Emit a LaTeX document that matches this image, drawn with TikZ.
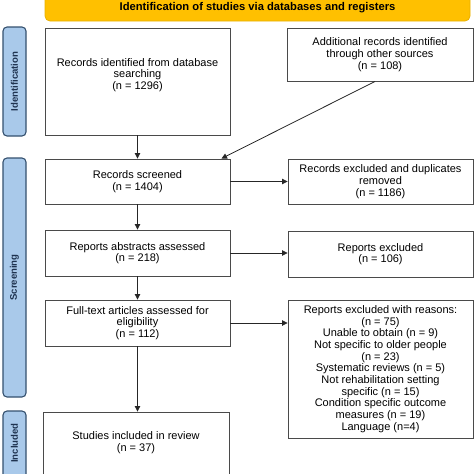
\documentclass[tikz,border=0pt]{standalone}
\usepackage{fontspec}
\setmainfont{Liberation Sans}
\usetikzlibrary{arrows.meta}
\definecolor{banner}{HTML}{FFC000}
\definecolor{bannerline}{HTML}{E8B000}
\definecolor{sidefill}{HTML}{A9C9EA}
\definecolor{sideline}{HTML}{34506E}
\definecolor{sidetext}{HTML}{1F3350}
\definecolor{boxline}{HTML}{4A4A4A}
\tikzset{
  flowbox/.style={draw=boxline, line width=0.9pt, fill=white, align=center, inner sep=2pt,
    font=\fontsize{11}{11.7}\selectfont, anchor=center},
  sidebox/.style={draw=sideline, line width=1.1pt, fill=sidefill, rounded corners=4pt,
    inner sep=0pt, font=\bfseries\fontsize{9.6}{11}\selectfont, text=sidetext},
  flowarrow/.style={draw=black!85, line width=0.8pt, -{Triangle[length=5.5pt,width=5.5pt]}}
}
\begin{document}
\begin{tikzpicture}[x=1pt,y=-1pt]
\useasboundingbox (0,0) rectangle (474,474);
\clip (0,0) rectangle (474,474);
% banner
\node[draw=bannerline, line width=0.8pt, fill=banner, rounded corners=5pt,
  minimum width=425pt, minimum height=32pt, inner sep=0pt,
  font=\bfseries\fontsize{11.2}{12}\selectfont] (banner) at (257.5,5)
  {\raisebox{-3pt}[\height][\depth]{Identification of studies via databases and registers}};
% side labels
\node[sidebox, minimum width=23pt, minimum height=109pt] (sideid) at (14.5,81.5)
  {\rotatebox{90}{Identification}};
\node[sidebox, minimum width=23pt, minimum height=239pt] (sidescr) at (14.5,277.5)
  {\rotatebox{90}{Screening}};
\node[sidebox, minimum width=23pt, minimum height=80pt] (sideinc) at (14.5,451)
  {\raisebox{8pt}[\height][\depth]{\rotatebox{90}{Included}}};
% boxes
\node[flowbox, minimum width=185pt, minimum height=107pt] (recid) at (137.5,81.5)
  {\raisebox{6pt}[\height][\depth]{\begin{tabular}{@{}c@{}}Records identified from database\\searching\\(n = 1296)\end{tabular}}};
\node[flowbox, minimum width=186pt, minimum height=53pt] (addrec) at (380,54.5)
  {Additional records identified\\through other sources\\(n = 108)};
\node[flowbox, minimum width=185pt, minimum height=45pt] (screened) at (137.5,181.5)
  {Records screened\\(n = 1404)};
\node[flowbox, minimum width=185pt, minimum height=45pt] (excl1) at (380.5,181.5)
  {Records excluded and duplicates\\removed\\(n = 1186)};
\node[flowbox, minimum width=185pt, minimum height=46pt] (abstr) at (137.5,253)
  {Reports abstracts assessed\\(n = 218)};
\node[flowbox, minimum width=185pt, minimum height=46pt] (excl2) at (380.5,254)
  {Reports excluded\\(n = 106)};
\node[flowbox, minimum width=185pt, minimum height=46pt] (full) at (137.5,323)
  {Full-text articles assessed for\\eligibility\\(n = 112)};
\node[flowbox, minimum width=185pt, minimum height=138pt] (excl3) at (380.5,369)
  {Reports excluded with reasons:\\(n = 75)\\Unable to obtain (n = 9)\\Not specific to older people\\(n = 23)\\Systematic reviews (n = 5)\\Not rehabilitation setting\\specific (n = 15)\\Condition specific outcome\\measures (n = 19)\\Language (n=4)};
\node[flowbox, minimum width=186pt, minimum height=70pt] (incl) at (136,447)
  {\raisebox{4pt}[\height][\depth]{\begin{tabular}{@{}c@{}}Studies included in review\\(n = 37)\end{tabular}}};
% arrows
\draw[flowarrow] (recid.south -| screened.north) -- (screened.north);
\draw[flowarrow] ([xshift=-5pt]addrec.south) -- ([xshift=84pt]screened.north);
\draw[flowarrow] (screened.east) -- (excl1.west);
\draw[flowarrow] (screened.south) -- (abstr.north);
\draw[flowarrow] (abstr.east) -- (abstr.east -| excl2.west);
\draw[flowarrow] (abstr.south) -- (full.north);
\draw[flowarrow] (full.east) -- (full.east -| excl3.west);
\draw[flowarrow] (full.south) -- (full.south |- incl.north);
\end{tikzpicture}
\end{document}
